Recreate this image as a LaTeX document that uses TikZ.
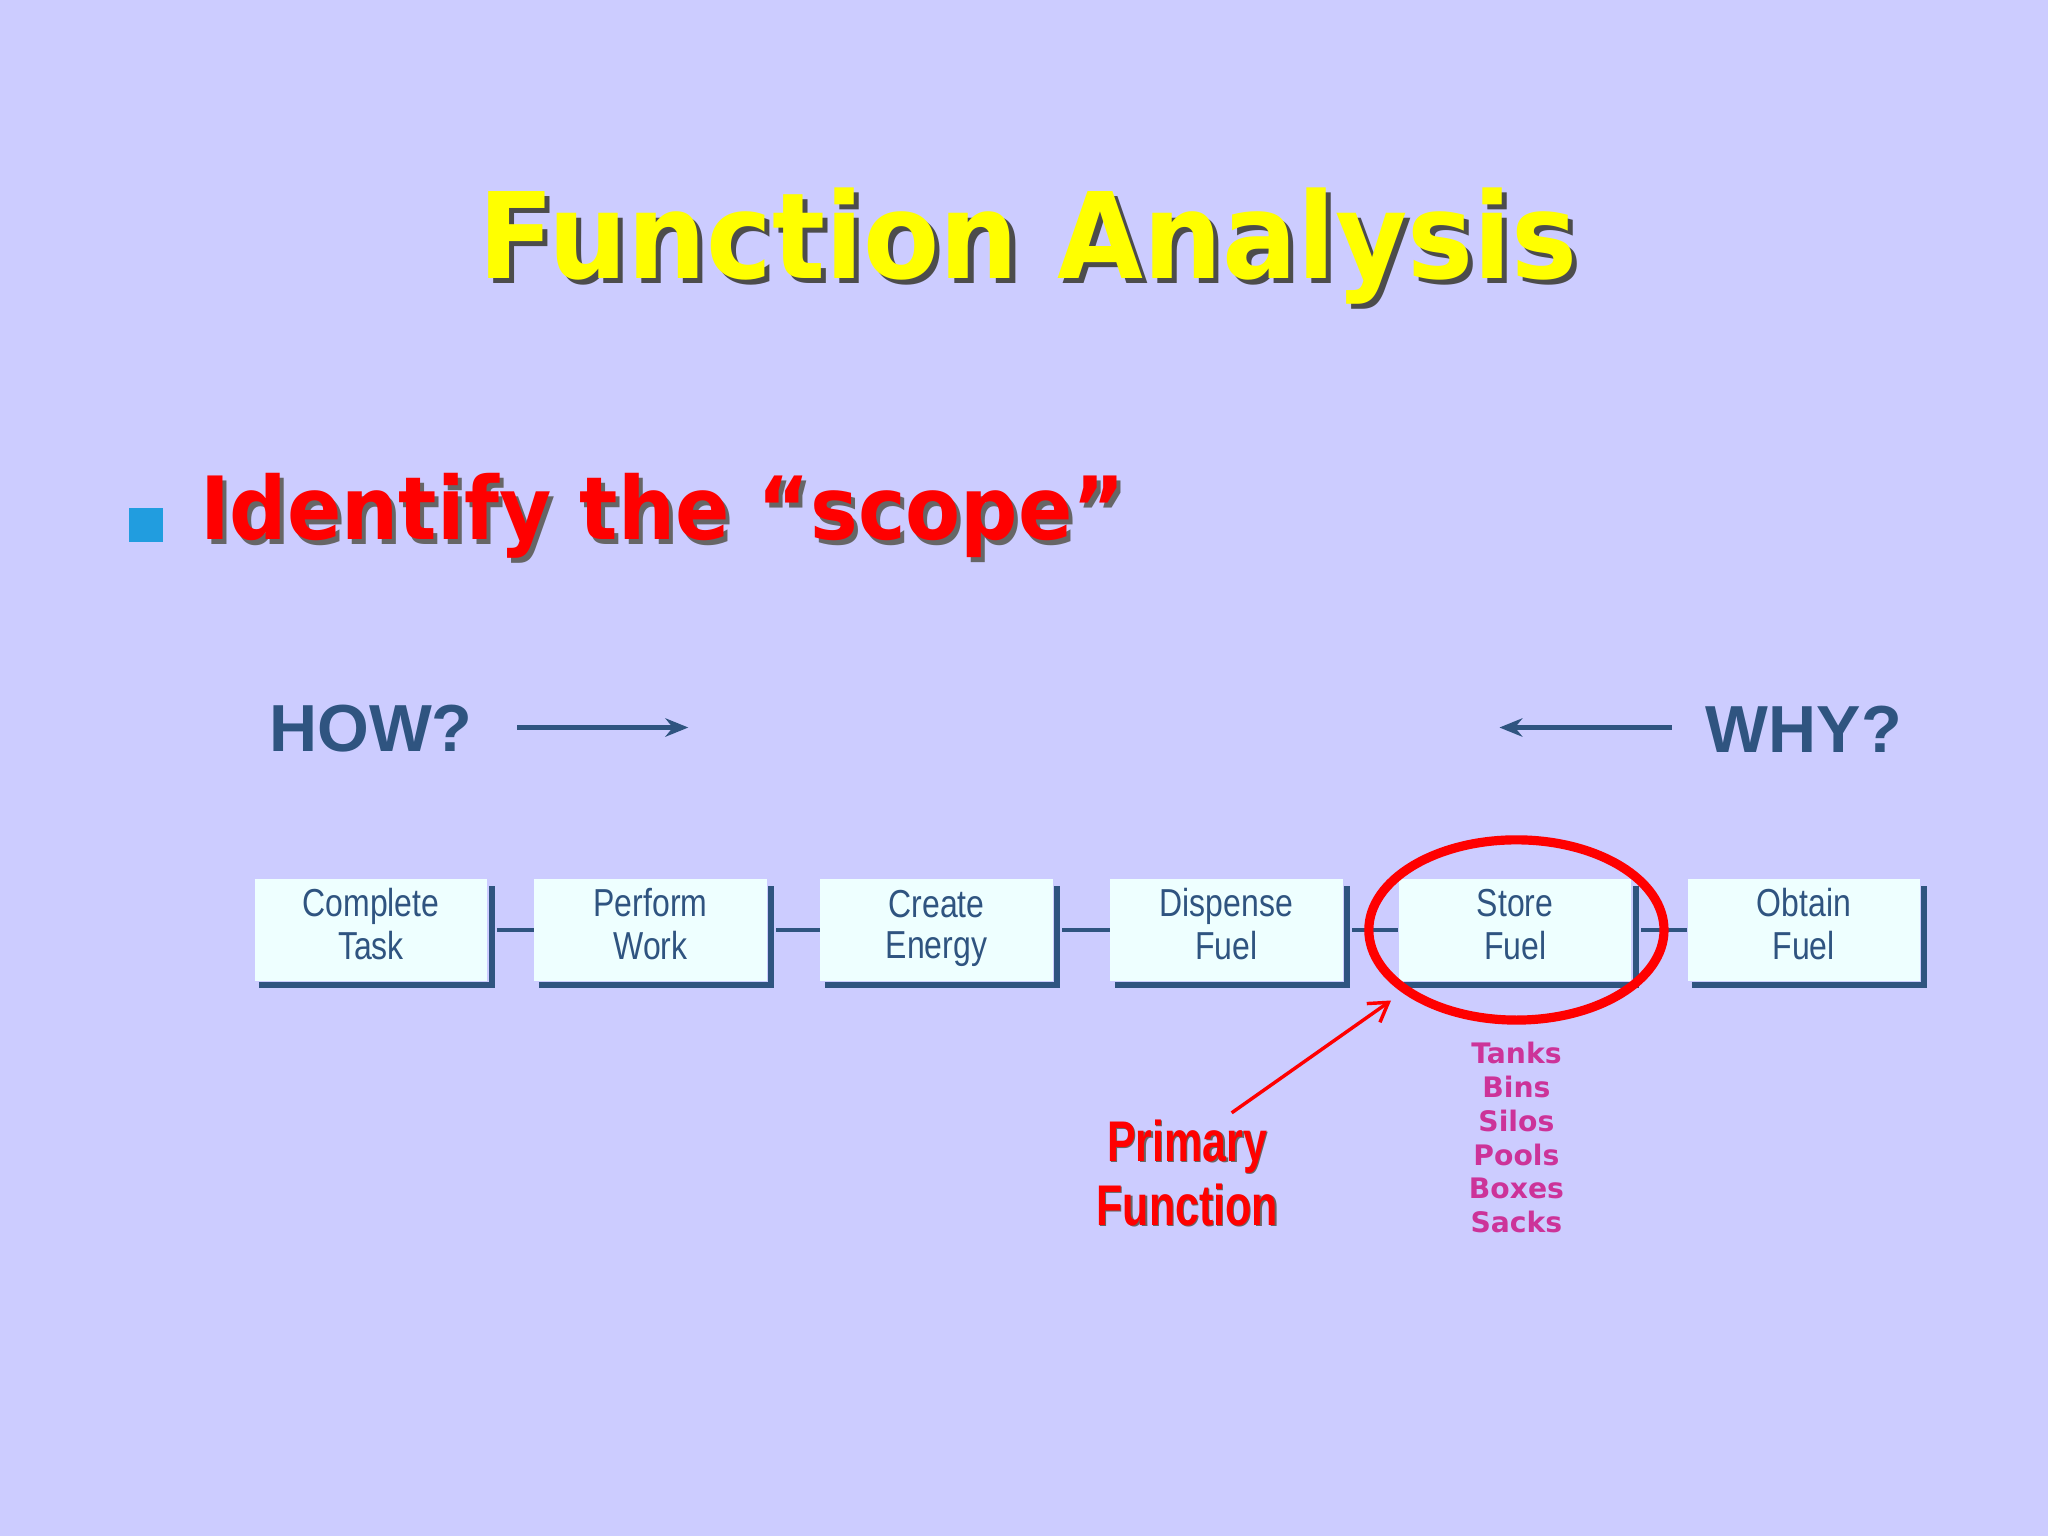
\documentclass[tikz,border=0pt]{standalone}
\usepackage{fontspec}
\setmainfont{DejaVu Sans}
\newfontfamily\arialf{Liberation Sans}
\usetikzlibrary{arrows.meta}
\definecolor{bgc}{HTML}{CCCCFF}
\definecolor{navy}{HTML}{2F5480}
\definecolor{boxc}{HTML}{EEFFFF}
\definecolor{mag}{HTML}{CC3399}
\definecolor{ttl}{HTML}{FFFF00}
\begin{document}
\begin{tikzpicture}[x=0.02cm,y=-0.02cm,
 fbox/.style={fill=boxc,minimum width=178*0.02cm,minimum height=78*0.02cm,inner sep=0pt,align=center,font=\arialf\fontsize{17}{17.5}\selectfont,text=navy},
 shad/.style={navy,line width=2.6pt},
 link/.style={navy,line width=1.5pt}]
\fill[bgc] (0,0) rectangle (1568,1176);
\useasboundingbox (0,0) rectangle (1568,1176);
% title
\node[text=black!70,font=\bfseries\fontsize{52}{54}\selectfont] at (791,192) {\scalebox{0.93}[1]{Function Analysis}};
\node (title) [text=ttl,font=\bfseries\fontsize{52}{54}\selectfont] at (787,188) {\scalebox{0.93}[1]{Function Analysis}};
% bullet
\fill[cyan!80!blue!90] (99,389) rectangle (125,415);
\node[anchor=west,text=black!60,font=\bfseries\fontsize{38}{40}\selectfont] at (150,399) {\scalebox{0.92}[1]{Identify the “scope”}};
\node (scope) [anchor=west,text=red,font=\bfseries\fontsize{38}{40}\selectfont] at (147,395) {\scalebox{0.92}[1]{Identify the “scope”}};
% how / why
\node (how) [text=navy,font=\arialf\bfseries\fontsize{29}{30}\selectfont] at (284,558) {HOW?};
\node (why) [text=navy,font=\arialf\bfseries\fontsize{29}{30}\selectfont] at (1381,558) {WHY?};
\coordinate (h1) at (396,557); \coordinate (h2) at (527,557);
\coordinate (w1) at (1280,557); \coordinate (w2) at (1148,557);
\draw[navy,line width=2.5pt,-{Stealth[length=10pt,width=8pt]}] (h1) -- (h2);
\draw[navy,line width=2.5pt,-{Stealth[length=10pt,width=8pt]}] (w1) -- (w2);
% boxes
\foreach \n/\x/\a/\b in {b1/284/Complete/Task, b2/498/Perform/Work, b3/717/Create/Energy, b4/939/Dispense/Fuel, b5/1160/Store/Fuel, b6/1381/Obtain/Fuel}{
 \node (\n) [fbox] at (\x,712) {\strut\scalebox{0.82}[1]{\a}\\\strut\scalebox{0.82}[1]{\b}};
 \draw[shad] ([shift={(3,6)}]\n.north east) -- ([shift={(3,3)}]\n.south east) -- ([shift={(4,3)}]\n.south west);
}
\foreach \a/\b in {b1/b2,b2/b3,b3/b4,b4/b5,b5/b6}{
 \draw[link] ([xshift=4]\a.east) -- (\b.west);
}
% ellipse
\draw[red,line width=4pt] (1161,712) ellipse [x radius=113, y radius=69];
\coordinate (ell) at (1065,766);
% primary function
\node[text=black!60,align=center,font=\arialf\bfseries\fontsize{25}{25}\selectfont] at (910,899) {\scalebox{0.75}[1]{Primary}\\[0.1cm]\scalebox{0.75}[1]{Function}};
\node (pf) [text=red,align=center,font=\arialf\bfseries\fontsize{25}{25}\selectfont] at (909,898) {\scalebox{0.75}[1]{Primary}\\[0.1cm]\scalebox{0.75}[1]{Function}};
\coordinate (pa) at (943,852);
\draw[red,line width=1.5pt,-{Straight Barb[length=8pt,width=10pt]}] (pa) -- (ell);
% list
\node (list) [text=mag,align=center,font=\bfseries\fontsize{12.3}{14.7}\selectfont] at (1161,871) {Tanks\\Bins\\Silos\\Pools\\Boxes\\Sacks};
\end{tikzpicture}
\end{document}
